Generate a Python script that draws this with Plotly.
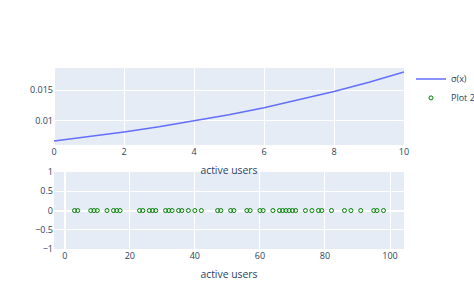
import plotly.graph_objects as go
from plotly.subplots import make_subplots

# Top panel: sigma(x) line
line_x = [0, 1, 2, 3, 4, 5, 6, 7, 8, 9, 10]
line_y = [0.00669, 0.00739, 0.00816, 0.00901, 0.00995, 0.01099,
          0.01213, 0.01339, 0.01477, 0.01630, 0.01799]

# Bottom panel: scattered users on y = 0
users_x = [3, 4, 8, 9, 10, 13, 15, 16, 17, 23, 24, 26, 27, 28, 31, 32, 33,
           35, 36, 38, 40, 42, 47, 48, 51, 52, 56, 57, 60, 61, 64, 66, 67, 68,
           69, 70, 71, 74, 76, 78, 79, 82, 86, 88, 91, 95, 96, 98]
users_y = [0] * len(users_x)

fig = make_subplots(rows=2, cols=1)
fig.add_trace(go.Scatter(x=line_x, y=line_y, mode="lines", name="σ(x)",
                         line=dict(color="#636efa", width=1.5)), row=1, col=1)
fig.add_trace(go.Scatter(x=users_x, y=users_y, mode="markers", name="Plot 2",
                         marker=dict(symbol="circle-open", color="green", size=4,
                                     line=dict(width=1))),
              row=2, col=1)

fig.update_xaxes(title_text="active users", title_font_size=10.4,
                 title_standoff=9, row=1, col=1)
fig.update_xaxes(title_text="active users", title_font_size=10.4,
                 title_standoff=9, dtick=20, row=2, col=1)

fig.update_layout(width=474, height=304,
                  font=dict(size=9),
                  margin=dict(l=54, r=70, t=68, b=55, autoexpand=False),
                  legend=dict(font=dict(size=9), itemwidth=30, y=1.02))
fig.write_html("out.html")
